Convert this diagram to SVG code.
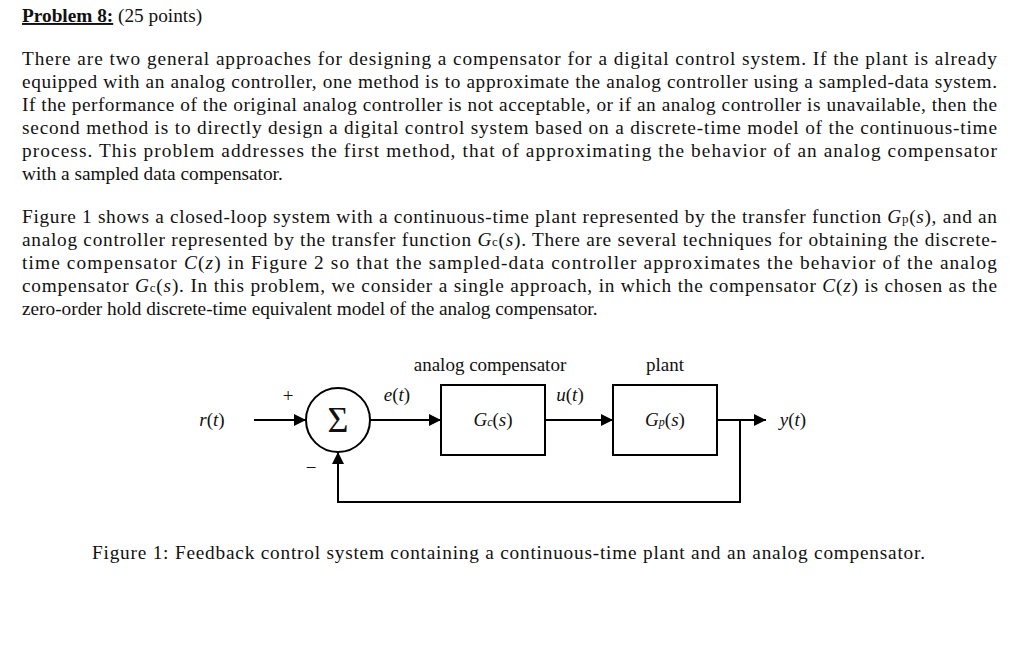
<svg xmlns="http://www.w3.org/2000/svg" width="1024" height="668" viewBox="0 0 1024 668">
<style>
text{font-family:"Liberation Serif","Times New Roman",serif;fill:#111}
.b{font-size:19.3px}
.d{font-size:19px}
.i{font-style:italic}
.ln{stroke:#000;stroke-width:2;fill:none}
</style>
<defs><marker id="a" viewBox="0 0 10 10" refX="10" refY="5" markerWidth="13" markerHeight="12" markerUnits="userSpaceOnUse" orient="auto"><path d="M0,0L10,5L0,10z" fill="#000"/></marker></defs>
<rect width="1024" height="668" fill="#fff"/>
<text x="22" y="22" class="b"><tspan font-weight="bold" text-decoration="underline">Problem 8:</tspan> (25 points)</text>
<g class="b">
<text x="22" y="65" textLength="975" lengthAdjust="spacing">There are two general approaches for designing a compensator for a digital control system. If the plant is already</text>
<text x="22" y="88" textLength="975" lengthAdjust="spacing">equipped with an analog controller, one method is to approximate the analog controller using a sampled-data system.</text>
<text x="22" y="111" textLength="975" lengthAdjust="spacing">If the performance of the original analog controller is not acceptable, or if an analog controller is unavailable, then the</text>
<text x="22" y="134" textLength="975" lengthAdjust="spacing">second method is to directly design a digital control system based on a discrete-time model of the continuous-time</text>
<text x="22" y="157" textLength="975" lengthAdjust="spacing">process. This problem addresses the first method, that of approximating the behavior of an analog compensator</text>
<text x="22" y="180">with a sampled data compensator.</text>
<text x="22" y="223" textLength="975" lengthAdjust="spacing">Figure 1 shows a closed-loop system with a continuous-time plant represented by the transfer function <tspan class="i">G</tspan><tspan font-size="13">p</tspan>(<tspan class="i">s</tspan>), and an</text>
<text x="22" y="246" textLength="975" lengthAdjust="spacing">analog controller represented by the transfer function <tspan class="i">G</tspan><tspan font-size="13">c</tspan>(<tspan class="i">s</tspan>). There are several techniques for obtaining the discrete-</text>
<text x="22" y="269" textLength="975" lengthAdjust="spacing">time compensator <tspan class="i">C</tspan>(<tspan class="i">z</tspan>) in Figure 2 so that the sampled-data controller approximates the behavior of the analog</text>
<text x="22" y="292" textLength="975" lengthAdjust="spacing">compensator <tspan class="i">G</tspan><tspan font-size="13">c</tspan>(<tspan class="i">s</tspan>). In this problem, we consider a single approach, in which the compensator <tspan class="i">C</tspan>(<tspan class="i">z</tspan>) is chosen as the</text>
<text x="22" y="315">zero-order hold discrete-time equivalent model of the analog compensator.</text>
<text x="92" y="559" textLength="833" lengthAdjust="spacing">Figure 1: Feedback control system containing a continuous-time plant and an analog compensator.</text>
</g>
<g id="titles" class="d">
<text x="490" y="371" text-anchor="middle">analog compensator</text>
<text x="665" y="371" text-anchor="middle">plant</text>
</g>
<g id="r"><text x="212" y="426" class="d" text-anchor="middle"><tspan class="i">r</tspan>(<tspan class="i">t</tspan>)</text></g>
<g id="sum"><circle cx="338" cy="420" r="32" class="ln"/><text x="338" y="432" text-anchor="middle" font-size="36" font-family="DejaVu Serif, serif">Σ</text>
<text x="288" y="402" class="d" text-anchor="middle">+</text><text x="311" y="474" class="d" text-anchor="middle">−</text></g>
<g id="gc"><rect x="441" y="385" width="104" height="70" class="ln"/><text x="493" y="426" class="d" text-anchor="middle"><tspan class="i">G</tspan><tspan font-size="12" class="i">c</tspan>(<tspan class="i">s</tspan>)</text></g>
<g id="gp"><rect x="613" y="385" width="104" height="70" class="ln"/><text x="665" y="426" class="d" text-anchor="middle"><tspan class="i">G</tspan><tspan font-size="12" class="i">p</tspan>(<tspan class="i">s</tspan>)</text></g>
<g id="y"><text x="793" y="426" class="d" text-anchor="middle"><tspan class="i">y</tspan>(<tspan class="i">t</tspan>)</text></g>
<g id="connectors" class="ln">
<path d="M254,420H306" marker-end="url(#a)"/>
<path d="M370,420H441" marker-end="url(#a)"/>
<path d="M545,420H613" marker-end="url(#a)"/>
<path d="M717,420H766" marker-end="url(#a)"/>
<path d="M740,420V502H338V452" marker-end="url(#a)"/>
</g>
<g class="d">
<text x="397" y="401" text-anchor="middle"><tspan class="i">e</tspan>(<tspan class="i">t</tspan>)</text>
<text x="570" y="401" text-anchor="middle"><tspan class="i">u</tspan>(<tspan class="i">t</tspan>)</text>
</g>
</svg>
